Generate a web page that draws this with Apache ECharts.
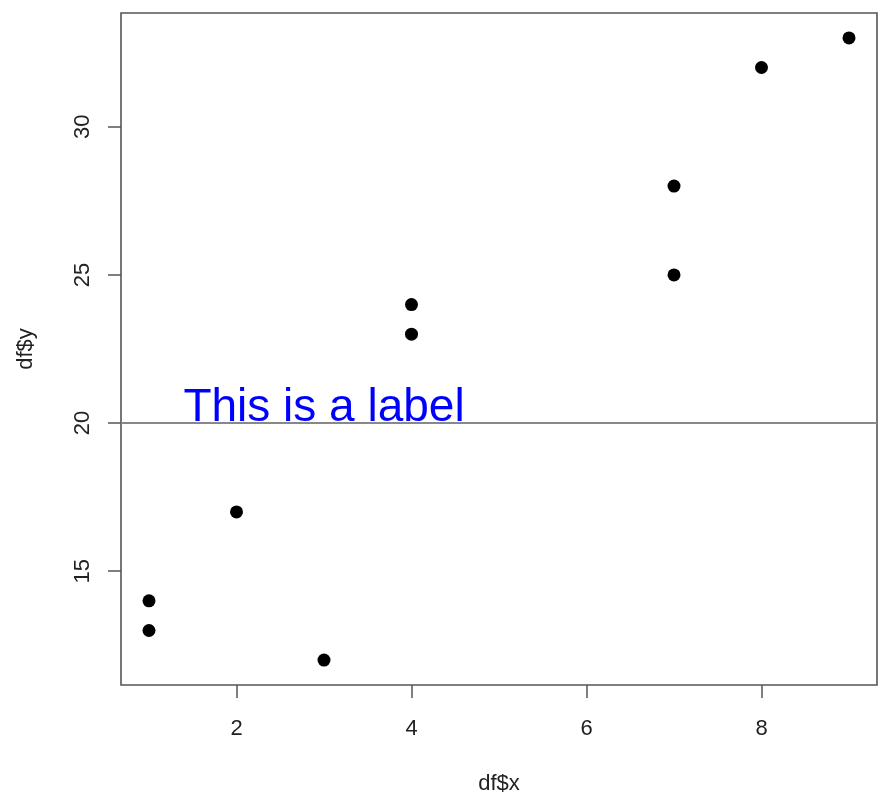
<!DOCTYPE html>
<html>
<head>
<meta charset="utf-8">
<script src="https://cdn.jsdelivr.net/npm/echarts@6/dist/echarts.min.js"></script>
<style>
html,body{margin:0;padding:0;background:#fff;}
#chart{width:896px;height:800px;}
</style>
</head>
<body>
<div id="chart"></div>
<script>
const xValues = [1, 1, 2, 3, 4, 4, 7, 7, 8, 9];
const yValues = [13, 14, 17, 12, 23, 24, 25, 28, 32, 33];
const xTicks = [2, 4, 6, 8];
const yTicks = [15, 20, 25, 30];
const hLineY = 20;
const labelPoint = [3, 20];
const labelText = 'This is a label';

const points = xValues.map((x, i) => [x, yValues[i]]);
const font = 'Liberation Sans, Arial, sans-serif';

const chart = echarts.init(document.getElementById('chart'));
chart.setOption({
  animation: false,
  backgroundColor: '#fff',
  textStyle: { fontFamily: font },
  grid: {
    left: 121, right: 19, top: 13, bottom: 114,
    show: true, borderColor: '#555', borderWidth: 1.6,
    containLabel: false
  },
  xAxis: {
    type: 'value', min: 0.68, max: 9.32,
    splitLine: { show: false },
    axisLine: { show: false },
    axisTick: { show: true, length: 13, inside: false, customValues: xTicks, lineStyle: { color: '#555', width: 1.5 } },
    axisLabel: { customValues: xTicks, margin: 33, fontSize: 22, color: '#222', fontFamily: font },
    name: 'df$x', nameLocation: 'middle', nameGap: 88,
    nameTextStyle: { fontSize: 22, color: '#222', fontFamily: font }
  },
  yAxis: {
    type: 'value', min: 11.16, max: 33.84,
    splitLine: { show: false },
    axisLine: { show: false },
    axisTick: { show: true, length: 13, inside: false, customValues: yTicks, lineStyle: { color: '#555', width: 1.5 } },
    axisLabel: { customValues: yTicks, rotate: 90, margin: 27, fontSize: 22, color: '#222', fontFamily: font },
    name: 'df$y', nameLocation: 'middle', nameGap: 84, nameRotate: 90,
    nameTextStyle: { fontSize: 22, color: '#222', fontFamily: font }
  },
  series: [
    {
      type: 'scatter',
      data: points,
      symbol: 'circle',
      symbolSize: 13,
      itemStyle: { color: '#000', opacity: 1 },
      markLine: {
        silent: true,
        symbol: 'none',
        label: { show: false },
        lineStyle: { color: '#888', width: 2, type: 'solid', opacity: 1 },
        data: [{ yAxis: hLineY }]
      }
    },
    {
      type: 'scatter',
      data: [labelPoint],
      symbolSize: 0,
      silent: true,
      itemStyle: { opacity: 1 },
      label: {
        show: true,
        formatter: labelText,
        position: 'top',
        distance: 0,
        offset: [0, 8],
        fontSize: 46,
        color: '#0000ff',
        opacity: 1,
        fontFamily: font
      }
    }
  ]
});
</script>
</body>
</html>
